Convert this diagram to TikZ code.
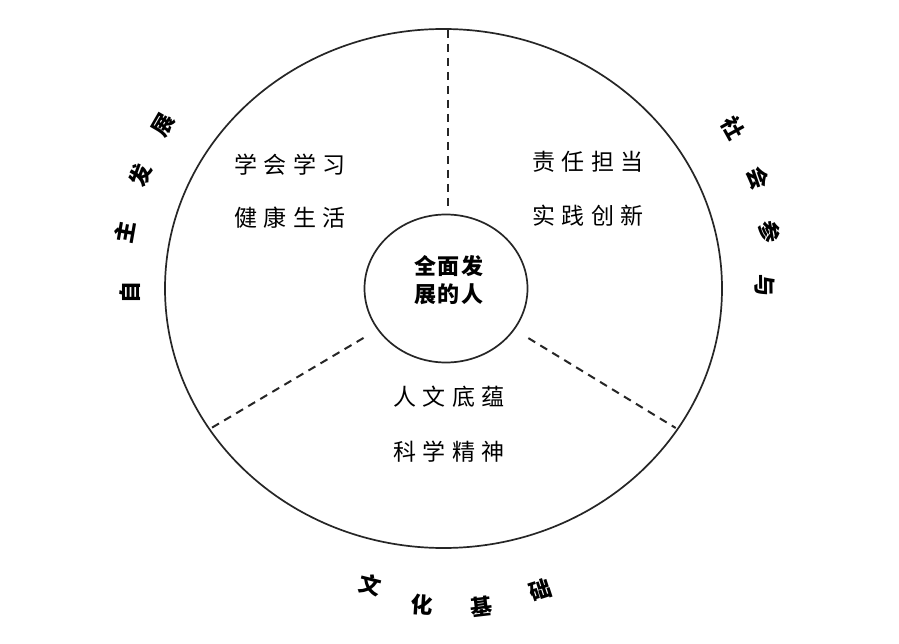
\documentclass[tikz,border=0pt]{standalone}
\usepackage{fontspec}
\newfontfamily\cjk{Noto Sans CJK SC}
\newfontfamily\cjkbody[LetterSpace=28]{Noto Sans CJK SC}
\newfontfamily\cjkmid[LetterSpace=6]{Noto Sans CJK SC}
\usetikzlibrary{shapes.geometric}
\tikzset{
  ring/.style={ellipse, draw=black!85, line width=1.7pt, inner sep=0pt},
  divider/.style={draw=black!85, line width=2pt, dash pattern=on 8pt off 6pt},
  bodytext/.style={inner sep=0pt, font=\cjkbody\fontsize{23pt}{26pt}\selectfont},
  midtext/.style={inner sep=0pt, align=center, font=\cjkmid\bfseries\fontsize{22pt}{28pt}\selectfont},
  arclabel/.style={inner sep=0pt, font=\cjk\bfseries\fontsize{22pt}{24pt}\selectfont}
}
\begin{document}
\begin{tikzpicture}[x=1pt,y=-1pt]
\useasboundingbox[fill=white] (0,0) rectangle (899,644);
\node[ring, minimum width=557pt, minimum height=519pt] (outer) at (443.5,288.5) {};
\node[ring, minimum width=163pt, minimum height=148pt] (core) at (446,288.5) {};
\node[midtext] (coretext) at (449,280) {全面发\\展的人};
\coordinate (topend) at (448,30);
\coordinate (topstart) at (448,211);
% dividers
\draw[divider] (topend) -- (topstart);
\draw[divider, shorten >=3pt, shorten <=16pt] (core.211) -- (outer.211);
\draw[divider, shorten >=3pt, shorten <=16pt] (core.329) -- (outer.329);
% sector texts
\node[bodytext] (t1) at (290,165) {学会学习};
\node[bodytext] (t2) at (290,218) {健康生活};
\node[bodytext] (t3) at (588,162) {责任担当};
\node[bodytext] (t4) at (588,216) {实践创新};
\node[bodytext] (t5) at (449,397) {人文底蕴};
\node[bodytext] (t6) at (449,452) {科学精神};
% outer arc labels
\node[arclabel, rotate=90] (a1) at (130,292) {自};
\node[arclabel, rotate=80] (a2) at (125,232) {主};
\node[arclabel, rotate=69.5] (a3) at (140,175) {发};
\node[arclabel, rotate=60] (a4) at (163,125) {展};
\node[arclabel, rotate=-61] (b1) at (733,128) {社};
\node[arclabel, rotate=-70.6] (b2) at (758,178) {会};
\node[arclabel, rotate=-80.2] (b3) at (770,232) {参};
\node[arclabel, rotate=-89.4] (b4) at (765,285) {与};
\node[arclabel, rotate=-14] (c1) at (370,585) {文};
\node[arclabel, rotate=-3.9] (c2) at (422,605) {化};
\node[arclabel, rotate=6.7] (c3) at (481,607) {基};
\node[arclabel, rotate=18] (c4) at (540,590) {础};
\end{tikzpicture}
\end{document}
